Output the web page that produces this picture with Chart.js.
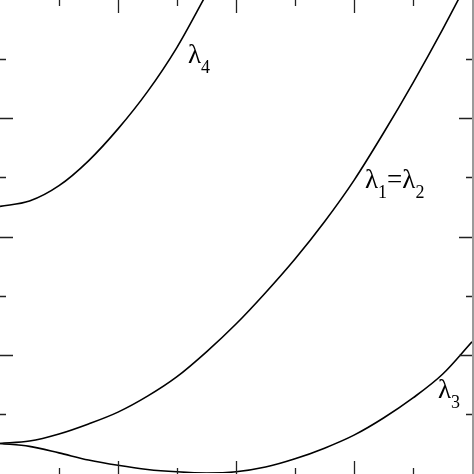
<!DOCTYPE html>
<html>
<head>
<meta charset="utf-8">
<script src="https://cdn.jsdelivr.net/npm/chart.js@4.4.1/dist/chart.umd.min.js"></script>
<style>
  html, body { margin: 0; padding: 0; background: #fff; }
  #wrap { width: 474px; height: 474px; }
</style>
</head>
<body>
<div id="wrap"><canvas id="eigenChart"></canvas></div>
<script>
// values (x and y in tick units)
let xValues = [0, 0.5, 1, 1.5, 2, 2.5, 3, 3.5, 4, 4.5, 5, 5.5, 6, 6.5, 7, 7.5, 8];
let lambda4 = [4.51, 4.60, 4.86, 5.28, 5.82, 6.45, 7.20, 8.10];
let lambda12 = [0.5, 0.54, 0.66, 0.83, 1.03, 1.30, 1.63, 2.05, 2.52, 3.05, 3.62, 4.25, 4.95, 5.75, 6.6, 7.5, 8.45];
let lambda3 = [0.5, 0.45, 0.34, 0.22, 0.13, 0.06, 0.02, 0.0, 0.02, 0.1, 0.24, 0.42, 0.64, 0.93, 1.27, 1.67, 2.22];

function toPoints(ys) {
    return ys.map((y, i) => ({ x: xValues[i], y: y }));
}

// inward tick marks on all four sides, long on even values
const tickFrame = {
    id: 'tickFrame',
    afterDraw(chart) {
        const ctx = chart.ctx;
        const a = chart.chartArea;
        const xs = chart.scales.x;
        const ys = chart.scales.y;
        ctx.save();
        ctx.strokeStyle = '#222';
        ctx.lineWidth = 1.3;
        xs.ticks.forEach(t => {
            if (t.value <= xs.min || t.value >= xs.max) return;
            const px = Math.round(xs.getPixelForValue(t.value)) + 0.5;
            const len = t.value % 2 === 0 ? 13 : 6;
            ctx.beginPath();
            ctx.moveTo(px, a.bottom + 1); ctx.lineTo(px, a.bottom + 1 - len);
            ctx.moveTo(px, a.top); ctx.lineTo(px, a.top + len);
            ctx.stroke();
        });
        ys.ticks.forEach(t => {
            if (t.value <= ys.min || t.value >= ys.max) return;
            const py = Math.round(ys.getPixelForValue(t.value)) + 0.5;
            const len = t.value % 2 === 0 ? 13 : 6;
            ctx.beginPath();
            ctx.moveTo(a.left, py); ctx.lineTo(a.left + len, py);
            ctx.moveTo(a.right, py); ctx.lineTo(a.right - len, py);
            ctx.stroke();
        });
        // right frame edge, the only one left in the crop
        ctx.strokeStyle = '#9a9a9a';
        ctx.lineWidth = 2;
        ctx.beginPath();
        ctx.moveTo(a.right + 1, 0); ctx.lineTo(a.right + 1, chart.height);
        ctx.stroke();
        ctx.restore();
    }
};

// curve labels: lambda with subscripts
const curveLabels = {
    id: 'curveLabels',
    afterDraw(chart, args, opts) {
        const ctx = chart.ctx;
        ctx.save();
        ctx.fillStyle = '#000';
        ctx.textBaseline = 'alphabetic';
        opts.items.forEach(item => {
            let x = item.x;
            item.parts.forEach(p => {
                const size = p.sub ? 18 : 27;
                ctx.font = size + 'px "Liberation Serif", "DejaVu Serif", serif';
                const y = item.y + (p.sub ? 10 : 0);
                ctx.fillText(p.t, x, y);
                x += ctx.measureText(p.t).width;
            });
        });
        ctx.restore();
    }
};

let eigenChart = document.getElementById('eigenChart').getContext('2d');

let new_eigen_chart = new Chart(eigenChart, {
    type: 'line',
    data: {
        datasets: [
            { label: 'lambda4', data: toPoints(lambda4) },
            { label: 'lambda1=lambda2', data: toPoints(lambda12) },
            { label: 'lambda3', data: toPoints(lambda3) },
        ],
    },
    options: {
        responsive: true,
        maintainAspectRatio: false,
        animation: false,
        layout: { padding: { right: 2, bottom: 1 } },
        elements: {
            line: { borderColor: '#000', borderWidth: 1.6, cubicInterpolationMode: 'monotone', fill: false },
            point: { radius: 0 },
        },
        scales: {
            x: {
                type: 'linear', min: 0, max: 8,
                ticks: { display: false, stepSize: 1 },
                grid: { display: false, drawTicks: false },
                border: { display: false },
            },
            y: {
                type: 'linear', min: 0, max: 8,
                ticks: { display: false, stepSize: 1 },
                grid: { display: false, drawTicks: false },
                border: { display: false },
            },
        },
        plugins: {
            legend: { display: false },
            tooltip: { enabled: false },
            curveLabels: {
                items: [
                    { x: 188, y: 63, parts: [{ t: 'λ' }, { t: '4', sub: true }] },
                    { x: 365, y: 188, parts: [{ t: 'λ' }, { t: '1', sub: true }, { t: '=' }, { t: 'λ' }, { t: '2', sub: true }] },
                    { x: 438, y: 398, parts: [{ t: 'λ' }, { t: '3', sub: true }] },
                ],
            },
        },
    },
    plugins: [tickFrame, curveLabels],
});
</script>
</body>
</html>
